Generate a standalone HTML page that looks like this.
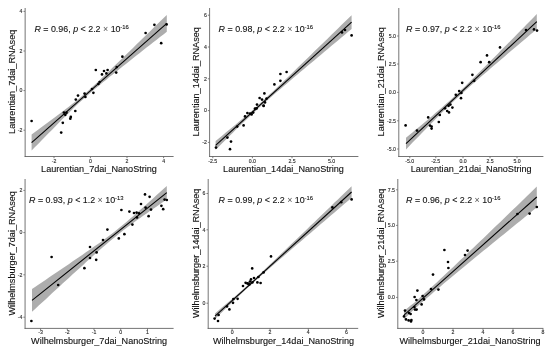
<!DOCTYPE html>
<html><head><meta charset="utf-8"><title>Correlation plots</title>
<style>
html,body{margin:0;padding:0;background:#fff;}
body{width:550px;height:352px;overflow:hidden;}
svg{display:block;font-family:"Liberation Sans",Arial,sans-serif;}
.ay{stroke:#767676;stroke-width:1;}
.ayl{stroke:#a2a2a2;stroke-width:1.5;}
.axx{stroke:#5c5c5c;stroke-width:0.85;}
.tk{stroke:#444;stroke-width:0.7;fill:none;}
.tl{font-size:5.2px;fill:#2a2a2a;stroke:#2a2a2a;stroke-width:0.12;}
.lb{font-size:9.1px;fill:#111;stroke:#111;stroke-width:0.12;}
.st{font-size:8.9px;fill:#111;stroke:#111;stroke-width:0.1;}
.x{fill:#555;stroke:none;}
.bd{fill:#adadad;stroke:none;}
.ln{stroke:#000;stroke-width:1.08;fill:none;}
.pt{fill:#000;}
</style></head><body>
<svg width="550" height="352" viewBox="0 0 550 352">
<rect width="550" height="352" fill="#fff"/>
<g>
<path class="bd" d="M31.6 134.6 L35.0 132.1 L38.4 129.6 L41.7 127.1 L45.1 124.5 L48.5 122.0 L51.9 119.5 L55.3 117.0 L58.6 114.4 L62.0 111.9 L65.4 109.3 L68.8 106.7 L72.2 104.1 L75.5 101.4 L78.9 98.7 L82.3 95.8 L85.7 92.9 L89.1 89.9 L92.4 86.8 L95.8 83.7 L99.2 80.5 L102.6 77.3 L106.0 74.1 L109.3 70.9 L112.7 67.6 L116.1 64.3 L119.5 61.1 L122.9 57.8 L126.2 54.5 L129.6 51.2 L133.0 47.9 L136.4 44.6 L139.8 41.3 L143.1 38.0 L146.5 34.7 L149.9 31.4 L153.3 28.1 L156.7 24.8 L160.0 21.5 L163.4 18.2 L166.8 14.9 L166.8 31.7 L163.4 34.4 L160.0 37.0 L156.7 39.7 L153.3 42.3 L149.9 45.0 L146.5 47.6 L143.1 50.3 L139.8 53.0 L136.4 55.6 L133.0 58.3 L129.6 61.0 L126.2 63.7 L122.9 66.3 L119.5 69.0 L116.1 71.7 L112.7 74.4 L109.3 77.1 L106.0 79.9 L102.6 82.6 L99.2 85.4 L95.8 88.2 L92.4 91.0 L89.1 93.9 L85.7 96.9 L82.3 99.9 L78.9 103.0 L75.5 106.3 L72.2 109.5 L68.8 112.9 L65.4 116.3 L62.0 119.6 L58.6 123.1 L55.3 126.5 L51.9 129.9 L48.5 133.3 L45.1 136.8 L41.7 140.2 L38.4 143.7 L35.0 147.1 L31.6 150.6Z"/>
<line class="ln" x1="31.6" y1="142.6" x2="166.8" y2="23.3"/>
<circle class="pt" cx="154.4" cy="24.8" r="1.33"/>
<circle class="pt" cx="166.6" cy="24.4" r="1.33"/>
<circle class="pt" cx="145.6" cy="33.0" r="1.33"/>
<circle class="pt" cx="161.2" cy="43.2" r="1.33"/>
<circle class="pt" cx="122.4" cy="56.7" r="1.33"/>
<circle class="pt" cx="116.7" cy="67.1" r="1.33"/>
<circle class="pt" cx="95.8" cy="70.0" r="1.33"/>
<circle class="pt" cx="104.0" cy="71.0" r="1.33"/>
<circle class="pt" cx="107.6" cy="70.0" r="1.33"/>
<circle class="pt" cx="102.0" cy="74.4" r="1.33"/>
<circle class="pt" cx="106.4" cy="73.4" r="1.33"/>
<circle class="pt" cx="116.2" cy="72.6" r="1.33"/>
<circle class="pt" cx="99.6" cy="82.0" r="1.33"/>
<circle class="pt" cx="98.4" cy="84.0" r="1.33"/>
<circle class="pt" cx="92.0" cy="89.0" r="1.33"/>
<circle class="pt" cx="93.4" cy="92.8" r="1.33"/>
<circle class="pt" cx="84.6" cy="93.6" r="1.33"/>
<circle class="pt" cx="85.4" cy="97.0" r="1.33"/>
<circle class="pt" cx="78.0" cy="95.6" r="1.33"/>
<circle class="pt" cx="75.8" cy="99.6" r="1.33"/>
<circle class="pt" cx="75.3" cy="111.0" r="1.33"/>
<circle class="pt" cx="63.9" cy="112.5" r="1.33"/>
<circle class="pt" cx="66.5" cy="112.7" r="1.33"/>
<circle class="pt" cx="65.3" cy="114.8" r="1.33"/>
<circle class="pt" cx="70.8" cy="116.9" r="1.33"/>
<circle class="pt" cx="70.3" cy="118.7" r="1.33"/>
<circle class="pt" cx="31.6" cy="121.0" r="1.33"/>
<circle class="pt" cx="62.8" cy="122.8" r="1.33"/>
<circle class="pt" cx="61.2" cy="132.6" r="1.33"/>
<line class="ayl" x1="25.2" y1="8.0" x2="25.2" y2="156.9"/>
<line class="axx" x1="24.7" y1="156.5" x2="173.6" y2="156.5"/>
<line class="tk" x1="54.0" y1="156.8" x2="54.0" y2="158.2"/>
<text class="tl" x="54.0" y="162.7" text-anchor="middle">-2</text>
<line class="tk" x1="90.4" y1="156.8" x2="90.4" y2="158.2"/>
<text class="tl" x="90.4" y="162.7" text-anchor="middle">0</text>
<line class="tk" x1="127.0" y1="156.8" x2="127.0" y2="158.2"/>
<text class="tl" x="127.0" y="162.7" text-anchor="middle">2</text>
<line class="tk" x1="163.6" y1="156.8" x2="163.6" y2="158.2"/>
<text class="tl" x="163.6" y="162.7" text-anchor="middle">4</text>
<line class="tk" x1="23.5" y1="11.4" x2="24.9" y2="11.4"/>
<text class="tl" x="22.4" y="13.2" text-anchor="end">4</text>
<line class="tk" x1="23.5" y1="51.0" x2="24.9" y2="51.0"/>
<text class="tl" x="22.4" y="52.8" text-anchor="end">2</text>
<line class="tk" x1="23.5" y1="90.6" x2="24.9" y2="90.6"/>
<text class="tl" x="22.4" y="92.4" text-anchor="end">0</text>
<line class="tk" x1="23.5" y1="130.2" x2="24.9" y2="130.2"/>
<text class="tl" x="22.4" y="132.0" text-anchor="end">-2</text>
<text class="lb" x="99.0" y="171.6" text-anchor="middle">Laurentian_7dai_NanoString</text>
<text class="lb" transform="translate(14.9 81.8) rotate(-90)" text-anchor="middle">Laurentian_7dai_RNAseq</text>
<text class="st" x="34.4" y="31.5"><tspan font-style="italic">R</tspan> = 0.96, <tspan font-style="italic">p</tspan> &lt; 2.2 <tspan class="x">×</tspan> 10<tspan font-size="5.9px" dy="-2.9" dx="-0.2">-16</tspan></text>
</g>
<g>
<path class="bd" d="M215.6 141.0 L219.0 138.2 L222.4 135.4 L225.8 132.6 L229.2 129.8 L232.6 127.0 L236.0 124.2 L239.4 121.3 L242.8 118.5 L246.2 115.6 L249.6 112.7 L253.0 109.7 L256.4 106.7 L259.8 103.6 L263.2 100.5 L266.6 97.3 L270.0 94.1 L273.4 90.9 L276.8 87.7 L280.2 84.5 L283.6 81.2 L287.0 78.0 L290.4 74.7 L293.8 71.4 L297.2 68.1 L300.6 64.8 L304.0 61.5 L307.4 58.2 L310.8 54.9 L314.2 51.6 L317.6 48.3 L321.0 45.0 L324.4 41.7 L327.8 38.4 L331.2 35.1 L334.6 31.8 L338.0 28.5 L341.4 25.1 L344.8 21.8 L348.2 18.5 L351.6 15.2 L351.6 29.0 L348.2 31.8 L344.8 34.7 L341.4 37.5 L338.0 40.4 L334.6 43.2 L331.2 46.1 L327.8 49.0 L324.4 51.8 L321.0 54.7 L317.6 57.5 L314.2 60.4 L310.8 63.2 L307.4 66.1 L304.0 69.0 L300.6 71.8 L297.2 74.7 L293.8 77.6 L290.4 80.5 L287.0 83.4 L283.6 86.3 L280.2 89.2 L276.8 92.1 L273.4 95.1 L270.0 98.0 L266.6 101.0 L263.2 104.0 L259.8 107.1 L256.4 110.2 L253.0 113.3 L249.6 116.5 L246.2 119.7 L242.8 123.0 L239.4 126.3 L236.0 129.6 L232.6 133.0 L229.2 136.3 L225.8 139.7 L222.4 143.0 L219.0 146.4 L215.6 149.8Z"/>
<line class="ln" x1="215.6" y1="145.4" x2="351.6" y2="22.1"/>
<circle class="pt" cx="345.0" cy="30.0" r="1.33"/>
<circle class="pt" cx="342.0" cy="32.4" r="1.33"/>
<circle class="pt" cx="351.6" cy="35.4" r="1.33"/>
<circle class="pt" cx="216.0" cy="147.6" r="1.33"/>
<circle class="pt" cx="227.4" cy="137.6" r="1.33"/>
<circle class="pt" cx="231.0" cy="141.6" r="1.33"/>
<circle class="pt" cx="230.0" cy="149.2" r="1.33"/>
<circle class="pt" cx="237.2" cy="126.6" r="1.33"/>
<circle class="pt" cx="243.6" cy="125.4" r="1.33"/>
<circle class="pt" cx="245.0" cy="116.4" r="1.33"/>
<circle class="pt" cx="247.4" cy="113.0" r="1.33"/>
<circle class="pt" cx="250.0" cy="113.6" r="1.33"/>
<circle class="pt" cx="251.6" cy="114.4" r="1.33"/>
<circle class="pt" cx="253.2" cy="112.6" r="1.33"/>
<circle class="pt" cx="255.2" cy="109.0" r="1.33"/>
<circle class="pt" cx="256.6" cy="108.4" r="1.33"/>
<circle class="pt" cx="263.6" cy="106.0" r="1.33"/>
<circle class="pt" cx="286.6" cy="72.0" r="1.33"/>
<circle class="pt" cx="280.4" cy="74.0" r="1.33"/>
<circle class="pt" cx="280.4" cy="80.8" r="1.33"/>
<circle class="pt" cx="274.4" cy="84.4" r="1.33"/>
<circle class="pt" cx="264.4" cy="93.4" r="1.33"/>
<circle class="pt" cx="259.6" cy="98.0" r="1.33"/>
<circle class="pt" cx="262.0" cy="99.6" r="1.33"/>
<circle class="pt" cx="266.6" cy="98.6" r="1.33"/>
<circle class="pt" cx="265.0" cy="102.4" r="1.33"/>
<circle class="pt" cx="257.0" cy="104.6" r="1.33"/>
<circle class="pt" cx="263.6" cy="105.6" r="1.33"/>
<circle class="pt" cx="255.0" cy="108.6" r="1.33"/>
<line class="ay" x1="209.6" y1="8.0" x2="209.6" y2="156.9"/>
<line class="axx" x1="209.1" y1="156.5" x2="358.4" y2="156.5"/>
<line class="tk" x1="212.8" y1="156.8" x2="212.8" y2="158.2"/>
<text class="tl" x="212.8" y="162.7" text-anchor="middle">-2.5</text>
<line class="tk" x1="252.4" y1="156.8" x2="252.4" y2="158.2"/>
<text class="tl" x="252.4" y="162.7" text-anchor="middle">0.0</text>
<line class="tk" x1="292.0" y1="156.8" x2="292.0" y2="158.2"/>
<text class="tl" x="292.0" y="162.7" text-anchor="middle">2.5</text>
<line class="tk" x1="331.6" y1="156.8" x2="331.6" y2="158.2"/>
<text class="tl" x="331.6" y="162.7" text-anchor="middle">5.0</text>
<line class="tk" x1="207.9" y1="15.2" x2="209.3" y2="15.2"/>
<text class="tl" x="206.8" y="17.0" text-anchor="end">6</text>
<line class="tk" x1="207.9" y1="47.0" x2="209.3" y2="47.0"/>
<text class="tl" x="206.8" y="48.8" text-anchor="end">4</text>
<line class="tk" x1="207.9" y1="78.8" x2="209.3" y2="78.8"/>
<text class="tl" x="206.8" y="80.6" text-anchor="end">2</text>
<line class="tk" x1="207.9" y1="110.6" x2="209.3" y2="110.6"/>
<text class="tl" x="206.8" y="112.4" text-anchor="end">0</text>
<line class="tk" x1="207.9" y1="142.4" x2="209.3" y2="142.4"/>
<text class="tl" x="206.8" y="144.2" text-anchor="end">-2</text>
<text class="lb" x="283.5" y="171.6" text-anchor="middle">Laurentian_14dai_NanoString</text>
<text class="lb" transform="translate(199.1 81.8) rotate(-90)" text-anchor="middle">Laurentian_14dai_RNAseq</text>
<text class="st" x="218.6" y="31.5"><tspan font-style="italic">R</tspan> = 0.98, <tspan font-style="italic">p</tspan> &lt; 2.2 <tspan class="x">×</tspan> 10<tspan font-size="5.9px" dy="-2.9" dx="-0.2">-16</tspan></text>
</g>
<g>
<path class="bd" d="M406.0 137.8 L409.3 135.1 L412.5 132.4 L415.8 129.6 L419.1 126.9 L422.4 124.2 L425.6 121.4 L428.9 118.7 L432.2 115.9 L435.4 113.1 L438.7 110.3 L442.0 107.5 L445.2 104.6 L448.5 101.7 L451.8 98.8 L455.0 95.7 L458.3 92.7 L461.6 89.6 L464.9 86.4 L468.1 83.3 L471.4 80.1 L474.7 76.8 L477.9 73.6 L481.2 70.3 L484.5 67.1 L487.8 63.8 L491.0 60.5 L494.3 57.2 L497.6 53.9 L500.8 50.6 L504.1 47.3 L507.4 44.0 L510.6 40.7 L513.9 37.4 L517.2 34.0 L520.4 30.7 L523.7 27.4 L527.0 24.1 L530.3 20.8 L533.5 17.4 L536.8 14.1 L536.8 29.1 L533.5 31.9 L530.3 34.6 L527.0 37.4 L523.7 40.2 L520.4 43.0 L517.2 45.8 L513.9 48.5 L510.6 51.3 L507.4 54.1 L504.1 56.9 L500.8 59.7 L497.6 62.5 L494.3 65.3 L491.0 68.1 L487.8 70.9 L484.5 73.7 L481.2 76.6 L477.9 79.4 L474.7 82.3 L471.4 85.1 L468.1 88.0 L464.9 91.0 L461.6 93.9 L458.3 96.9 L455.0 100.0 L451.8 103.0 L448.5 106.2 L445.2 109.4 L442.0 112.6 L438.7 115.9 L435.4 119.2 L432.2 122.5 L428.9 125.8 L425.6 129.2 L422.4 132.5 L419.1 135.9 L415.8 139.3 L412.5 142.6 L409.3 146.0 L406.0 149.4Z"/>
<line class="ln" x1="406.0" y1="143.6" x2="536.8" y2="21.6"/>
<circle class="pt" cx="526.0" cy="30.0" r="1.33"/>
<circle class="pt" cx="534.0" cy="29.4" r="1.33"/>
<circle class="pt" cx="537.0" cy="30.6" r="1.33"/>
<circle class="pt" cx="500.0" cy="47.4" r="1.33"/>
<circle class="pt" cx="487.0" cy="55.4" r="1.33"/>
<circle class="pt" cx="480.6" cy="62.2" r="1.33"/>
<circle class="pt" cx="489.2" cy="62.2" r="1.33"/>
<circle class="pt" cx="405.6" cy="125.4" r="1.33"/>
<circle class="pt" cx="417.0" cy="130.6" r="1.33"/>
<circle class="pt" cx="428.2" cy="117.4" r="1.33"/>
<circle class="pt" cx="430.0" cy="125.6" r="1.33"/>
<circle class="pt" cx="431.6" cy="126.6" r="1.33"/>
<circle class="pt" cx="431.6" cy="128.6" r="1.33"/>
<circle class="pt" cx="439.8" cy="115.0" r="1.33"/>
<circle class="pt" cx="438.8" cy="122.0" r="1.33"/>
<circle class="pt" cx="447.2" cy="111.0" r="1.33"/>
<circle class="pt" cx="449.0" cy="112.4" r="1.33"/>
<circle class="pt" cx="445.0" cy="108.3" r="1.33"/>
<circle class="pt" cx="452.4" cy="107.6" r="1.33"/>
<circle class="pt" cx="448.6" cy="105.8" r="1.33"/>
<circle class="pt" cx="472.4" cy="74.8" r="1.33"/>
<circle class="pt" cx="474.2" cy="80.8" r="1.33"/>
<circle class="pt" cx="462.2" cy="82.8" r="1.33"/>
<circle class="pt" cx="459.2" cy="91.0" r="1.33"/>
<circle class="pt" cx="461.4" cy="93.0" r="1.33"/>
<circle class="pt" cx="455.8" cy="94.8" r="1.33"/>
<circle class="pt" cx="461.0" cy="98.2" r="1.33"/>
<circle class="pt" cx="450.4" cy="104.6" r="1.33"/>
<line class="ay" x1="398.8" y1="8.0" x2="398.8" y2="156.9"/>
<line class="axx" x1="398.3" y1="156.5" x2="543.4" y2="156.5"/>
<line class="tk" x1="409.8" y1="156.8" x2="409.8" y2="158.2"/>
<text class="tl" x="409.8" y="162.7" text-anchor="middle">-5.0</text>
<line class="tk" x1="435.8" y1="156.8" x2="435.8" y2="158.2"/>
<text class="tl" x="435.8" y="162.7" text-anchor="middle">-2.5</text>
<line class="tk" x1="463.0" y1="156.8" x2="463.0" y2="158.2"/>
<text class="tl" x="463.0" y="162.7" text-anchor="middle">0.0</text>
<line class="tk" x1="490.0" y1="156.8" x2="490.0" y2="158.2"/>
<text class="tl" x="490.0" y="162.7" text-anchor="middle">2.5</text>
<line class="tk" x1="517.0" y1="156.8" x2="517.0" y2="158.2"/>
<text class="tl" x="517.0" y="162.7" text-anchor="middle">5.0</text>
<line class="tk" x1="397.1" y1="36.0" x2="398.5" y2="36.0"/>
<text class="tl" x="396.0" y="37.8" text-anchor="end">5.0</text>
<line class="tk" x1="397.1" y1="64.0" x2="398.5" y2="64.0"/>
<text class="tl" x="396.0" y="65.8" text-anchor="end">2.5</text>
<line class="tk" x1="397.1" y1="92.4" x2="398.5" y2="92.4"/>
<text class="tl" x="396.0" y="94.2" text-anchor="end">0.0</text>
<line class="tk" x1="397.1" y1="120.8" x2="398.5" y2="120.8"/>
<text class="tl" x="396.0" y="122.6" text-anchor="end">-2.5</text>
<line class="tk" x1="397.1" y1="149.0" x2="398.5" y2="149.0"/>
<text class="tl" x="396.0" y="150.8" text-anchor="end">-5.0</text>
<text class="lb" x="471.2" y="171.6" text-anchor="middle">Laurentian_21dai_NanoString</text>
<text class="lb" transform="translate(384.1 81.8) rotate(-90)" text-anchor="middle">Laurentian_21dai_RNAseq</text>
<text class="st" x="406.0" y="31.5"><tspan font-style="italic">R</tspan> = 0.97, <tspan font-style="italic">p</tspan> &lt; 2.2 <tspan class="x">×</tspan> 10<tspan font-size="5.9px" dy="-2.9" dx="-0.2">-16</tspan></text>
</g>
<g>
<path class="bd" d="M32.0 289.0 L35.4 286.7 L38.7 284.5 L42.1 282.2 L45.5 279.9 L48.9 277.6 L52.2 275.3 L55.6 273.1 L59.0 270.8 L62.3 268.5 L65.7 266.2 L69.1 263.9 L72.4 261.6 L75.8 259.3 L79.2 257.0 L82.6 254.7 L85.9 252.3 L89.3 250.0 L92.7 247.6 L96.0 245.3 L99.4 242.9 L102.8 240.4 L106.1 238.0 L109.5 235.5 L112.9 232.9 L116.3 230.3 L119.6 227.6 L123.0 224.8 L126.4 222.0 L129.7 219.1 L133.1 216.2 L136.5 213.3 L139.8 210.3 L143.2 207.3 L146.6 204.3 L149.9 201.2 L153.3 198.2 L156.7 195.1 L160.1 192.1 L163.4 189.0 L166.8 185.9 L166.8 199.5 L163.4 201.8 L160.1 204.1 L156.7 206.4 L153.3 208.8 L149.9 211.1 L146.6 213.4 L143.2 215.8 L139.8 218.2 L136.5 220.6 L133.1 223.0 L129.7 225.5 L126.4 228.0 L123.0 230.6 L119.6 233.2 L116.3 235.9 L112.9 238.7 L109.5 241.5 L106.1 244.4 L102.8 247.3 L99.4 250.2 L96.0 253.2 L92.7 256.2 L89.3 259.3 L85.9 262.3 L82.6 265.4 L79.2 268.4 L75.8 271.5 L72.4 274.6 L69.1 277.7 L65.7 280.8 L62.3 283.8 L59.0 286.9 L55.6 290.0 L52.2 293.1 L48.9 296.3 L45.5 299.4 L42.1 302.5 L38.7 305.6 L35.4 308.7 L32.0 311.8Z"/>
<line class="ln" x1="32.0" y1="300.4" x2="166.8" y2="192.7"/>
<circle class="pt" cx="145.0" cy="194.4" r="1.33"/>
<circle class="pt" cx="149.6" cy="196.8" r="1.33"/>
<circle class="pt" cx="141.0" cy="204.0" r="1.33"/>
<circle class="pt" cx="145.6" cy="207.6" r="1.33"/>
<circle class="pt" cx="151.0" cy="209.6" r="1.33"/>
<circle class="pt" cx="121.4" cy="210.0" r="1.33"/>
<circle class="pt" cx="129.4" cy="211.6" r="1.33"/>
<circle class="pt" cx="134.0" cy="213.0" r="1.33"/>
<circle class="pt" cx="136.6" cy="212.6" r="1.33"/>
<circle class="pt" cx="139.0" cy="213.4" r="1.33"/>
<circle class="pt" cx="137.0" cy="217.4" r="1.33"/>
<circle class="pt" cx="148.6" cy="216.2" r="1.33"/>
<circle class="pt" cx="132.4" cy="224.6" r="1.33"/>
<circle class="pt" cx="107.4" cy="229.6" r="1.33"/>
<circle class="pt" cx="124.4" cy="234.2" r="1.33"/>
<circle class="pt" cx="118.8" cy="238.4" r="1.33"/>
<circle class="pt" cx="103.0" cy="240.0" r="1.33"/>
<circle class="pt" cx="161.4" cy="205.8" r="1.33"/>
<circle class="pt" cx="163.2" cy="209.2" r="1.33"/>
<circle class="pt" cx="164.6" cy="199.6" r="1.33"/>
<circle class="pt" cx="166.8" cy="200.0" r="1.33"/>
<circle class="pt" cx="51.6" cy="257.0" r="1.33"/>
<circle class="pt" cx="90.0" cy="247.0" r="1.33"/>
<circle class="pt" cx="96.6" cy="252.4" r="1.33"/>
<circle class="pt" cx="90.0" cy="258.0" r="1.33"/>
<circle class="pt" cx="96.2" cy="259.8" r="1.33"/>
<circle class="pt" cx="84.4" cy="268.2" r="1.33"/>
<circle class="pt" cx="58.2" cy="285.0" r="1.33"/>
<circle class="pt" cx="31.4" cy="321.0" r="1.33"/>
<line class="ayl" x1="25.1" y1="179.0" x2="25.1" y2="328.8"/>
<line class="axx" x1="24.6" y1="328.4" x2="173.6" y2="328.4"/>
<line class="tk" x1="40.6" y1="328.7" x2="40.6" y2="330.1"/>
<text class="tl" x="40.6" y="333.5" text-anchor="middle">-3</text>
<line class="tk" x1="67.3" y1="328.7" x2="67.3" y2="330.1"/>
<text class="tl" x="67.3" y="333.5" text-anchor="middle">-2</text>
<line class="tk" x1="94.0" y1="328.7" x2="94.0" y2="330.1"/>
<text class="tl" x="94.0" y="333.5" text-anchor="middle">-1</text>
<line class="tk" x1="120.7" y1="328.7" x2="120.7" y2="330.1"/>
<text class="tl" x="120.7" y="333.5" text-anchor="middle">0</text>
<line class="tk" x1="147.5" y1="328.7" x2="147.5" y2="330.1"/>
<text class="tl" x="147.5" y="333.5" text-anchor="middle">1</text>
<line class="tk" x1="23.4" y1="190.4" x2="24.8" y2="190.4"/>
<text class="tl" x="22.3" y="192.2" text-anchor="end">2</text>
<line class="tk" x1="23.4" y1="232.6" x2="24.8" y2="232.6"/>
<text class="tl" x="22.3" y="234.4" text-anchor="end">0</text>
<line class="tk" x1="23.4" y1="274.8" x2="24.8" y2="274.8"/>
<text class="tl" x="22.3" y="276.6" text-anchor="end">-2</text>
<line class="tk" x1="23.4" y1="317.2" x2="24.8" y2="317.2"/>
<text class="tl" x="22.3" y="319.0" text-anchor="end">-4</text>
<text class="lb" x="99.1" y="343.7" text-anchor="middle">Wilhelmsburger_7dai_NanoString</text>
<text class="lb" transform="translate(14.9 253.3) rotate(-90)" text-anchor="middle">Wilhelmsburger_7dai_RNAseq</text>
<text class="st" x="29.0" y="203.2"><tspan font-style="italic">R</tspan> = 0.93, <tspan font-style="italic">p</tspan> &lt; 1.2 <tspan class="x">×</tspan> 10<tspan font-size="5.9px" dy="-2.9" dx="-0.2">-13</tspan></text>
</g>
<g>
<path class="bd" d="M215.0 313.4 L218.4 310.5 L221.8 307.6 L225.2 304.7 L228.7 301.8 L232.1 298.9 L235.5 295.9 L238.9 292.9 L242.3 290.0 L245.7 286.9 L249.2 283.8 L252.6 280.7 L256.0 277.6 L259.4 274.4 L262.8 271.2 L266.2 268.0 L269.6 264.8 L273.1 261.6 L276.5 258.3 L279.9 255.1 L283.3 251.8 L286.7 248.6 L290.1 245.3 L293.5 242.0 L297.0 238.8 L300.4 235.5 L303.8 232.2 L307.2 228.9 L310.6 225.6 L314.0 222.4 L317.5 219.1 L320.9 215.8 L324.3 212.5 L327.7 209.2 L331.1 205.9 L334.5 202.6 L337.9 199.4 L341.4 196.1 L344.8 192.8 L348.2 189.5 L351.6 186.2 L351.6 197.8 L348.2 200.7 L344.8 203.6 L341.4 206.6 L337.9 209.5 L334.5 212.4 L331.1 215.3 L327.7 218.2 L324.3 221.2 L320.9 224.1 L317.5 227.0 L314.0 229.9 L310.6 232.9 L307.2 235.8 L303.8 238.7 L300.4 241.7 L297.0 244.6 L293.5 247.5 L290.1 250.5 L286.7 253.4 L283.3 256.4 L279.9 259.3 L276.5 262.3 L273.1 265.2 L269.6 268.2 L266.2 271.2 L262.8 274.2 L259.4 277.2 L256.0 280.3 L252.6 283.4 L249.2 286.5 L245.7 289.6 L242.3 292.8 L238.9 296.0 L235.5 299.2 L232.1 302.5 L228.7 305.8 L225.2 309.1 L221.8 312.4 L218.4 315.7 L215.0 319.0Z"/>
<line class="ln" x1="215.0" y1="316.2" x2="351.6" y2="192.0"/>
<circle class="pt" cx="332.4" cy="207.4" r="1.33"/>
<circle class="pt" cx="341.2" cy="202.2" r="1.33"/>
<circle class="pt" cx="351.6" cy="199.4" r="1.33"/>
<circle class="pt" cx="214.6" cy="318.6" r="1.33"/>
<circle class="pt" cx="218.0" cy="321.0" r="1.33"/>
<circle class="pt" cx="218.6" cy="315.0" r="1.33"/>
<circle class="pt" cx="227.0" cy="306.4" r="1.33"/>
<circle class="pt" cx="229.4" cy="309.4" r="1.33"/>
<circle class="pt" cx="233.0" cy="302.8" r="1.33"/>
<circle class="pt" cx="233.4" cy="299.0" r="1.33"/>
<circle class="pt" cx="237.6" cy="298.8" r="1.33"/>
<circle class="pt" cx="243.0" cy="286.0" r="1.33"/>
<circle class="pt" cx="248.0" cy="283.6" r="1.33"/>
<circle class="pt" cx="271.0" cy="256.4" r="1.33"/>
<circle class="pt" cx="252.2" cy="268.4" r="1.33"/>
<circle class="pt" cx="263.6" cy="272.4" r="1.33"/>
<circle class="pt" cx="258.4" cy="277.0" r="1.33"/>
<circle class="pt" cx="254.0" cy="278.0" r="1.33"/>
<circle class="pt" cx="251.0" cy="279.4" r="1.33"/>
<circle class="pt" cx="250.0" cy="281.6" r="1.33"/>
<circle class="pt" cx="252.4" cy="282.4" r="1.33"/>
<circle class="pt" cx="257.4" cy="282.4" r="1.33"/>
<circle class="pt" cx="260.6" cy="283.0" r="1.33"/>
<circle class="pt" cx="245.6" cy="282.8" r="1.33"/>
<circle class="pt" cx="247.4" cy="283.4" r="1.33"/>
<circle class="pt" cx="249.4" cy="284.4" r="1.33"/>
<line class="ay" x1="208.2" y1="179.0" x2="208.2" y2="328.8"/>
<line class="axx" x1="207.7" y1="328.4" x2="358.2" y2="328.4"/>
<line class="tk" x1="232.1" y1="328.7" x2="232.1" y2="330.1"/>
<text class="tl" x="232.1" y="333.5" text-anchor="middle">0</text>
<line class="tk" x1="270.0" y1="328.7" x2="270.0" y2="330.1"/>
<text class="tl" x="270.0" y="333.5" text-anchor="middle">2</text>
<line class="tk" x1="308.3" y1="328.7" x2="308.3" y2="330.1"/>
<text class="tl" x="308.3" y="333.5" text-anchor="middle">4</text>
<line class="tk" x1="346.5" y1="328.7" x2="346.5" y2="330.1"/>
<text class="tl" x="346.5" y="333.5" text-anchor="middle">6</text>
<line class="tk" x1="206.5" y1="193.5" x2="207.9" y2="193.5"/>
<text class="tl" x="205.4" y="195.3" text-anchor="end">6</text>
<line class="tk" x1="206.5" y1="229.8" x2="207.9" y2="229.8"/>
<text class="tl" x="205.4" y="231.6" text-anchor="end">4</text>
<line class="tk" x1="206.5" y1="266.2" x2="207.9" y2="266.2"/>
<text class="tl" x="205.4" y="268.0" text-anchor="end">2</text>
<line class="tk" x1="206.5" y1="303.2" x2="207.9" y2="303.2"/>
<text class="tl" x="205.4" y="305.0" text-anchor="end">0</text>
<text class="lb" x="283.5" y="343.7" text-anchor="middle">Wilhelmsburger_14dai_NanoString</text>
<text class="lb" transform="translate(198.5 253.3) rotate(-90)" text-anchor="middle">Wilhelmsburger_14dai_RNAseq</text>
<text class="st" x="218.6" y="202.9"><tspan font-style="italic">R</tspan> = 0.99, <tspan font-style="italic">p</tspan> &lt; 2.2 <tspan class="x">×</tspan> 10<tspan font-size="5.9px" dy="-2.9" dx="-0.2">-16</tspan></text>
</g>
<g>
<path class="bd" d="M404.0 310.9 L407.3 308.3 L410.6 305.6 L414.0 302.9 L417.3 300.0 L420.6 297.0 L423.9 294.0 L427.2 291.0 L430.6 288.0 L433.9 285.0 L437.2 281.9 L440.5 278.8 L443.8 275.7 L447.2 272.6 L450.5 269.5 L453.8 266.4 L457.1 263.2 L460.4 260.1 L463.8 256.9 L467.1 253.8 L470.4 250.6 L473.7 247.4 L477.0 244.2 L480.4 241.1 L483.7 237.9 L487.0 234.7 L490.3 231.5 L493.6 228.3 L497.0 225.1 L500.3 221.9 L503.6 218.7 L506.9 215.5 L510.2 212.3 L513.6 209.1 L516.9 205.9 L520.2 202.7 L523.5 199.4 L526.8 196.2 L530.2 193.0 L533.5 189.8 L536.8 186.6 L536.8 207.4 L533.5 210.1 L530.2 212.8 L526.8 215.5 L523.5 218.2 L520.2 220.9 L516.9 223.6 L513.6 226.3 L510.2 229.0 L506.9 231.7 L503.6 234.4 L500.3 237.1 L497.0 239.8 L493.6 242.5 L490.3 245.2 L487.0 247.9 L483.7 250.6 L480.4 253.3 L477.0 256.1 L473.7 258.8 L470.4 261.5 L467.1 264.2 L463.8 267.0 L460.4 269.7 L457.1 272.5 L453.8 275.3 L450.5 278.0 L447.2 280.8 L443.8 283.6 L440.5 286.4 L437.2 289.2 L433.9 292.1 L430.6 294.9 L427.2 297.8 L423.9 300.7 L420.6 303.6 L417.3 306.6 L414.0 309.6 L410.6 312.8 L407.3 316.0 L404.0 319.3Z"/>
<line class="ln" x1="404.0" y1="315.1" x2="536.8" y2="197.0"/>
<circle class="pt" cx="517.4" cy="214.0" r="1.33"/>
<circle class="pt" cx="529.6" cy="213.6" r="1.33"/>
<circle class="pt" cx="536.8" cy="207.0" r="1.33"/>
<circle class="pt" cx="417.4" cy="290.6" r="1.33"/>
<circle class="pt" cx="414.6" cy="297.0" r="1.33"/>
<circle class="pt" cx="416.4" cy="300.0" r="1.33"/>
<circle class="pt" cx="422.6" cy="296.0" r="1.33"/>
<circle class="pt" cx="424.0" cy="299.4" r="1.33"/>
<circle class="pt" cx="421.6" cy="304.4" r="1.33"/>
<circle class="pt" cx="431.0" cy="289.0" r="1.33"/>
<circle class="pt" cx="438.4" cy="289.6" r="1.33"/>
<circle class="pt" cx="405.0" cy="310.6" r="1.33"/>
<circle class="pt" cx="404.0" cy="316.4" r="1.33"/>
<circle class="pt" cx="406.0" cy="319.4" r="1.33"/>
<circle class="pt" cx="408.6" cy="320.4" r="1.33"/>
<circle class="pt" cx="411.4" cy="320.0" r="1.33"/>
<circle class="pt" cx="411.0" cy="321.4" r="1.33"/>
<circle class="pt" cx="409.0" cy="313.0" r="1.33"/>
<circle class="pt" cx="410.6" cy="314.0" r="1.33"/>
<circle class="pt" cx="414.4" cy="307.0" r="1.33"/>
<circle class="pt" cx="415.0" cy="309.6" r="1.33"/>
<circle class="pt" cx="416.6" cy="309.6" r="1.33"/>
<circle class="pt" cx="444.4" cy="250.0" r="1.33"/>
<circle class="pt" cx="467.6" cy="250.6" r="1.33"/>
<circle class="pt" cx="465.0" cy="255.0" r="1.33"/>
<circle class="pt" cx="448.0" cy="262.0" r="1.33"/>
<circle class="pt" cx="448.4" cy="268.0" r="1.33"/>
<circle class="pt" cx="433.0" cy="274.6" r="1.33"/>
<line class="ay" x1="397.8" y1="179.0" x2="397.8" y2="328.8"/>
<line class="axx" x1="397.3" y1="328.4" x2="543.4" y2="328.4"/>
<line class="tk" x1="423.0" y1="328.7" x2="423.0" y2="330.1"/>
<text class="tl" x="423.0" y="333.5" text-anchor="middle">0</text>
<line class="tk" x1="453.0" y1="328.7" x2="453.0" y2="330.1"/>
<text class="tl" x="453.0" y="333.5" text-anchor="middle">2</text>
<line class="tk" x1="483.0" y1="328.7" x2="483.0" y2="330.1"/>
<text class="tl" x="483.0" y="333.5" text-anchor="middle">4</text>
<line class="tk" x1="513.0" y1="328.7" x2="513.0" y2="330.1"/>
<text class="tl" x="513.0" y="333.5" text-anchor="middle">6</text>
<line class="tk" x1="543.0" y1="328.7" x2="543.0" y2="330.1"/>
<text class="tl" x="543.0" y="333.5" text-anchor="middle">8</text>
<line class="tk" x1="396.1" y1="189.8" x2="397.5" y2="189.8"/>
<text class="tl" x="395.0" y="191.6" text-anchor="end">7.5</text>
<line class="tk" x1="396.1" y1="225.4" x2="397.5" y2="225.4"/>
<text class="tl" x="395.0" y="227.2" text-anchor="end">5.0</text>
<line class="tk" x1="396.1" y1="261.2" x2="397.5" y2="261.2"/>
<text class="tl" x="395.0" y="263.0" text-anchor="end">2.5</text>
<line class="tk" x1="396.1" y1="297.4" x2="397.5" y2="297.4"/>
<text class="tl" x="395.0" y="299.2" text-anchor="end">0.0</text>
<text class="lb" x="470.0" y="343.7" text-anchor="middle">Wilhelmsburger_21dai_NanoString</text>
<text class="lb" transform="translate(383.5 253.3) rotate(-90)" text-anchor="middle">Wilhelmsburger_21dai_RNAseq</text>
<text class="st" x="406.0" y="202.9"><tspan font-style="italic">R</tspan> = 0.96, <tspan font-style="italic">p</tspan> &lt; 2.2 <tspan class="x">×</tspan> 10<tspan font-size="5.9px" dy="-2.9" dx="-0.2">-16</tspan></text>
</g>
</svg></body></html>
